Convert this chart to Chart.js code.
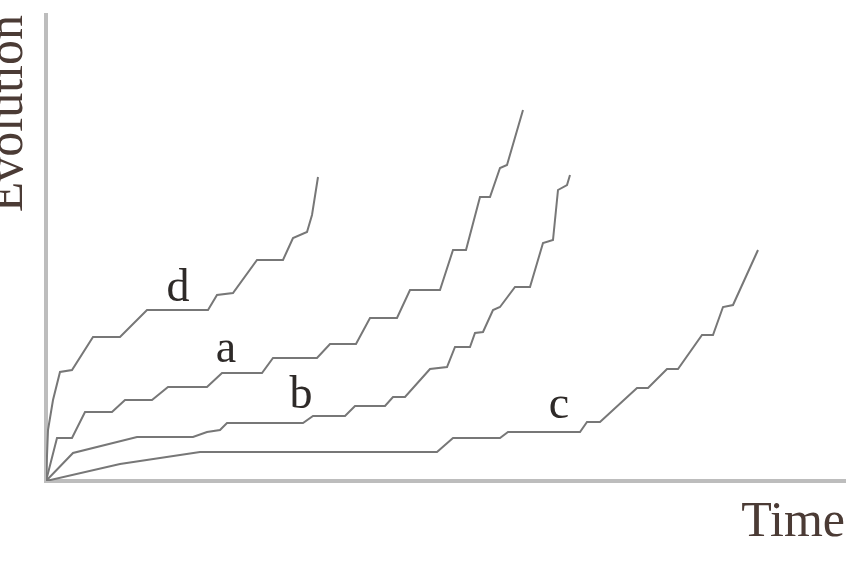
<!DOCTYPE html>
<html>
<head>
<meta charset="utf-8">
<script src="https://cdn.jsdelivr.net/npm/chart.js@4"></script>
<style>
  html, body { margin: 0; padding: 0; background: #fff; }
  canvas { display: block; }
</style>
</head>
<body>
<canvas id="chart" width="865" height="586"></canvas>
<script>
// curves (time, evolution)
const dTime = [0, 2, 7, 14, 26, 47, 74, 101, 162, 171, 187, 211, 237, 247, 261, 266, 272];
const dEvol = [0, 51, 81, 109, 111, 144, 144, 171, 171, 186, 188, 221, 221, 243, 249, 266, 304];

const aTime = [0, 11, 26, 39, 66, 79, 106, 122, 161, 176, 216, 227, 271, 284, 310, 324, 351, 364, 394, 407, 420, 434, 444, 454, 461, 477];
const aEvol = [0, 43, 43, 69, 69, 81, 81, 94, 94, 108, 108, 123, 123, 137, 137, 163, 163, 191, 191, 231, 231, 284, 284, 313, 316, 371];

const bTime = [0, 27, 91, 147, 161, 174, 181, 257, 267, 299, 309, 339, 347, 359, 384, 401, 409, 424, 429, 437, 447, 454, 469, 484, 497, 507, 512, 521, 524];
const bEvol = [0, 28, 44, 44, 49, 51, 58, 58, 65, 65, 75, 75, 84, 84, 112, 114, 134, 134, 148, 149, 171, 174, 194, 194, 238, 241, 291, 296, 306];

const cTime = [0, 74, 154, 391, 407, 454, 462, 534, 541, 554, 591, 602, 621, 632, 656, 667, 677, 687, 712];
const cEvol = [0, 17, 29, 29, 43, 43, 49, 49, 59, 59, 93, 93, 112, 112, 146, 146, 174, 176, 231];

// curve names and where they are written
const labels = ['d', 'a', 'b', 'c'];
const labelTime = [132, 180, 255, 513];
const labelEvol = [180, 119, 73, 63];

const pts = (xs, ys) => xs.map((x, i) => ({ x: x, y: ys[i] }));

const lineStyle = {
    borderColor: '#777777',
    borderWidth: 2,
    pointRadius: 0,
    tension: 0,
    fill: false
};

const curveLabels = {
    id: 'curveLabels',
    afterDatasetsDraw(chart) {
        const { ctx, scales } = chart;
        ctx.save();
        ctx.fillStyle = '#2e2a28';
        ctx.font = '46px "Liberation Serif", "Times New Roman", serif';
        ctx.textAlign = 'center';
        ctx.textBaseline = 'alphabetic';
        labels.forEach((t, i) => {
            ctx.fillText(t, scales.x.getPixelForValue(labelTime[i]), scales.y.getPixelForValue(labelEvol[i]));
        });
        ctx.restore();
    }
};

const ctx = document.getElementById('chart').getContext('2d');

new Chart(ctx, {
    type: 'line',
    data: {
        datasets: [
            { label: 'd', data: pts(dTime, dEvol), ...lineStyle },
            { label: 'a', data: pts(aTime, aEvol), ...lineStyle },
            { label: 'b', data: pts(bTime, bEvol), ...lineStyle },
            { label: 'c', data: pts(cTime, cEvol), ...lineStyle }
        ]
    },
    options: {
        responsive: false,
        animation: false,
        layout: { padding: { top: 15, right: 20, left: 0, bottom: 0 } },
        plugins: {
            legend: { display: false },
            tooltip: { enabled: false }
        },
        scales: {
            x: {
                type: 'linear',
                min: 0,
                max: 799,
                grid: { display: false },
                ticks: { display: false },
                border: { color: '#bdbdbd', width: 4 },
                title: {
                    display: true,
                    text: 'Time',
                    align: 'end',
                    color: '#4b3b35',
                    font: { family: '"Liberation Serif", serif', size: 50, lineHeight: 1 },
                    padding: { top: 21, bottom: 38 }
                },
                afterFit(scale) { scale.height = 105; }
            },
            y: {
                type: 'linear',
                min: 0,
                max: 466,
                grid: { display: false },
                ticks: { display: false },
                border: { color: '#bdbdbd', width: 4 },
                title: {
                    display: true,
                    text: 'Evolution',
                    align: 'end',
                    color: '#4b3b35',
                    font: { family: '"Liberation Serif", serif', size: 50, lineHeight: 0.34 },
                    padding: 0
                },
                afterFit(scale) { scale.width = 46; }
            }
        }
    },
    plugins: [curveLabels]
});
</script>
</body>
</html>
